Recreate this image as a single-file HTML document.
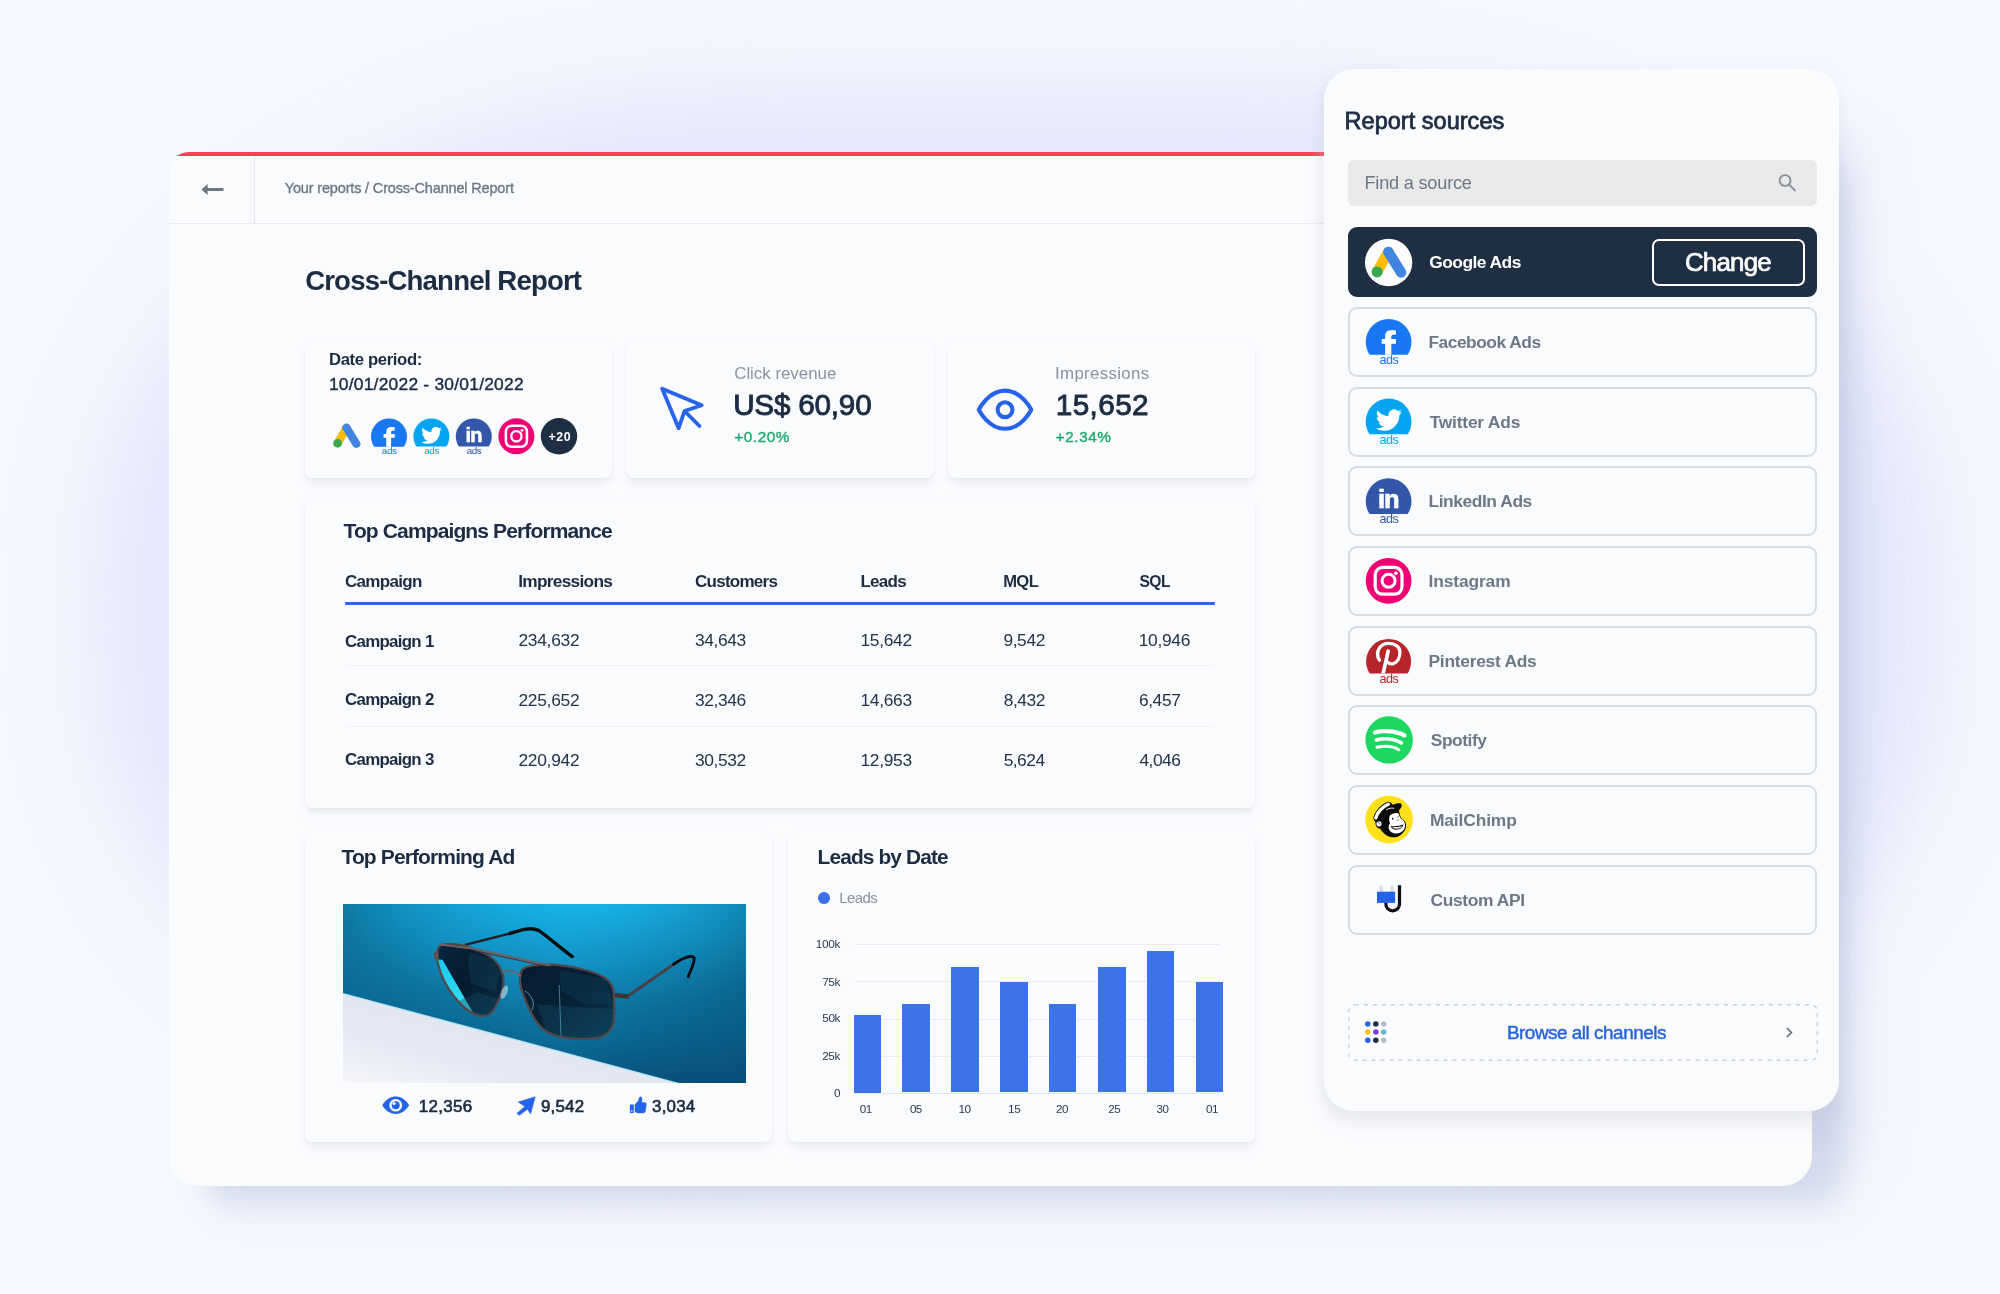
<!DOCTYPE html>
<html lang="en">
<head>
<meta charset="utf-8">
<title>Cross-Channel Report</title>
<style>
*{box-sizing:border-box;margin:0;padding:0}
html,body{width:2000px;height:1294px;overflow:hidden}
body{position:relative;font-family:"Liberation Sans",sans-serif;background:#f5f7fe;
 }
#blob{left:100px;top:92px;width:1835px;height:1040px;border-radius:640px/470px;background:#e4e7fb;filter:blur(40px)}
.abs{position:absolute}
.t{position:absolute;white-space:nowrap;line-height:1;font-family:"Liberation Sans",sans-serif}
#win{left:169px;top:152px;width:1643px;height:1034px;background:#fafbfd;border-radius:20px 0 30px 30px;
 box-shadow:32px 20px 24px -4px rgba(186,195,222,.40), 42px 28px 28px rgba(200,207,230,.18);overflow:hidden}
#redbar{left:0;top:0;width:100%;height:4px;background:#fa3f54}
#hline{left:169px;top:223px;width:1155px;height:1px;background:#e9ebef}
#vline{left:254px;top:156px;width:1px;height:67px;background:#e6e8ec}
.card{position:absolute;background:#fafbfd;border-radius:8px;box-shadow:0 6px 7px -1px rgba(198,203,215,.30), 0 1px 2px rgba(226,230,241,.3)}
#panel{left:1324px;top:69px;width:515px;height:1042px;background:#fafbfd;border-radius:30px;
 box-shadow:0 12px 14px rgba(196,198,212,.26), -5px 2px 14px rgba(205,210,235,.20)}
#pshadow{left:1324px;top:69px;width:515px;height:1042px;border-radius:30px;box-shadow:24px 52px 36px -16px rgba(182,190,224,.30), 34px 66px 52px -10px rgba(198,205,232,.17)}
#search{left:1348px;top:160px;width:469px;height:46px;background:#e9e9ea;border-radius:6px}
.row{position:absolute;left:1348px;width:469px;height:70px;border:2px solid #d8dbe0;border-radius:9px;background:#fafbfd}
.row.sel{background:#1e2e43;border-color:#1e2e43}
#change{left:1652px;top:239px;width:153px;height:47px;border:2px solid #fff;border-radius:7px}
#browse{left:1347.5px;top:1004px;width:470px;height:57px;border-radius:7px}
.grid{position:absolute;left:855px;width:365px;height:1px;background:#e9ebef}
.bar{position:absolute;background:#3d72e9;width:27.8px}
.sep{position:absolute;left:345px;width:870px;height:1px;background:#f0f2f5}
</style>
</head>
<body>
<!-- main window -->
<div id="blob" class="abs"></div>
<div id="pshadow" class="abs"></div>
<div id="win" class="abs"><div id="redbar" class="abs"></div></div>
<div id="hline" class="abs"></div>
<div id="vline" class="abs"></div>

<!-- cards -->
<div class="card" style="left:305px;top:341px;width:307px;height:137px"></div>
<div class="card" style="left:626px;top:341px;width:308px;height:137px"></div>
<div class="card" style="left:948px;top:341px;width:307px;height:137px"></div>
<div class="card" style="left:305px;top:498px;width:950px;height:310px"></div>
<div class="card" style="left:305px;top:832px;width:467px;height:310px"></div>
<div class="card" style="left:788px;top:832px;width:467px;height:310px"></div>

<!-- table lines -->
<div class="abs" style="left:345px;top:602px;width:870px;height:2.6px;background:#2f68e6;border-radius:1px"></div>
<div class="sep" style="top:665px"></div>
<div class="sep" style="top:725.5px"></div>

<!-- chart -->
<div class="grid" style="top:943.5px"></div>
<div class="grid" style="top:981px"></div>
<div class="grid" style="top:1018.5px"></div>
<div class="grid" style="top:1055.5px"></div>
<div class="grid" style="top:1093px;background:#e3e6ea"></div>
<div class="bar" style="left:853.6px;top:1015px;height:77.5px"></div>
<div class="bar" style="left:902.4px;top:1004.2px;height:88.3px"></div>
<div class="bar" style="left:951.2px;top:966.9px;height:125.6px"></div>
<div class="bar" style="left:1000px;top:981.8px;height:110.7px"></div>
<div class="bar" style="left:1048.7px;top:1004.2px;height:88.3px"></div>
<div class="bar" style="left:1097.8px;top:966.9px;height:125.6px"></div>
<div class="bar" style="left:1146.7px;top:950.6px;height:141.9px"></div>
<div class="bar" style="left:1195.7px;top:981.8px;height:110.7px"></div>
<div class="abs" style="left:818.3px;top:892.2px;width:11.6px;height:11.6px;border-radius:50%;background:#3d72e9"></div>

<svg class="abs" style="left:343px;top:903.5px" width="403" height="179.6" viewBox="0 0 403 179.6"><defs>
<linearGradient id="bgx" x1="0" x2="1" y1="0" y2="0"><stop offset="0" stop-color="#0c7aa5"/><stop offset=".3" stop-color="#0f92c2"/><stop offset=".55" stop-color="#12a7db"/><stop offset=".78" stop-color="#0e8bb9"/><stop offset="1" stop-color="#0b739e"/></linearGradient>
<linearGradient id="bgy" x1="0" x2="0" y1="0" y2="1"><stop offset="0" stop-color="#0a5a85" stop-opacity="0"/><stop offset=".4" stop-color="#08527c" stop-opacity=".32"/><stop offset="1" stop-color="#064a73" stop-opacity=".9"/></linearGradient>
<linearGradient id="fl" x1="0" x2="1" y1="1" y2="0"><stop offset="0" stop-color="#f6f7fb"/><stop offset=".3" stop-color="#e4e8f3"/><stop offset="1" stop-color="#dde3f0"/></linearGradient>
<linearGradient id="lensR" x1="0" x2="1" y1="0" y2="1"><stop offset="0" stop-color="#071d31"/><stop offset=".5" stop-color="#072034"/><stop offset="1" stop-color="#0a3852"/></linearGradient>
<linearGradient id="lensL" x1="0" x2="1" y1="0" y2="1"><stop offset="0" stop-color="#08263f"/><stop offset=".5" stop-color="#061a2d"/><stop offset="1" stop-color="#09304a"/></linearGradient>
<linearGradient id="cy" x1="0" x2="0" y1="0" y2="1"><stop offset="0" stop-color="#16c9ee"/><stop offset="1" stop-color="#3fe0f4"/></linearGradient>
<radialGradient id="glow" cx=".6" cy="0" r=".6"><stop offset="0" stop-color="#19b4e8" stop-opacity=".95"/><stop offset="1" stop-color="#19b4e8" stop-opacity="0"/></radialGradient>
<clipPath id="imgclip"><rect width="403" height="179.6"/></clipPath>
</defs><g clip-path="url(#imgclip)"><rect width="403" height="179.6" fill="url(#bgx)"/><rect width="403" height="179.6" fill="url(#glow)"/><rect width="403" height="179.6" fill="url(#bgy)"/><polygon points="0,89.6 336,179.6 0,179.6" fill="url(#fl)"/><path d="M0,89.6 L336,179.6" stroke="#b9e8f5" stroke-width="1.4" opacity=".9"/><path d="M122.0,40.8 L173.0,27.9" stroke="#241f23" stroke-width="2.4" fill="none"/><path d="M167.0,29.4 C179.0,25.5 188.0,22.8 195.5,26.4 C204.5,32.2 216.5,43.5 229.2,52.5" stroke="#0a0c10" stroke-width="3.4" stroke-linecap="round" fill="none"/><path d="M270.5,91.2 L284.7,92.2 L335.0,57.3" stroke="#4b4044" stroke-width="2.9" fill="none" stroke-linejoin="round"/><path d="M272.0,89.7 L284.0,90.6" stroke="#a39797" stroke-width="0.9" fill="none"/><path d="M330.5,60.3 C341.0,53.2 349.2,50.2 351.2,54.0 C351.5,60.0 347.0,67.5 345.2,72.7" stroke="#0a0c10" stroke-width="2.8" stroke-linecap="round" fill="none"/><path d="M270.8,88.8 L285.8,90.3 L285.5,94.8 L270.8,93.3 Z" fill="#3e3438"/><clipPath id="cl"><path d="M98.0,41.2 C101.4,40.0 108.9,39.9 114.5,40.5 C120.1,41.1 125.1,42.7 131.0,45.0 C136.9,47.3 144.3,50.2 149.0,54.0 C153.7,57.8 156.8,62.7 158.7,67.5 C160.7,72.3 160.9,77.4 160.2,82.5 C159.6,87.6 157.2,92.9 155.0,97.5 C152.8,102.1 150.6,107.1 147.5,109.5 C144.4,111.9 140.8,112.3 137.0,111.7 C133.2,111.2 129.3,109.7 125.0,106.5 C120.7,103.3 115.6,98.1 111.5,93.0 C107.4,87.9 103.8,82.1 101.0,76.5 C98.2,70.9 96.1,64.8 95.0,60.0 C93.9,55.2 93.7,51.2 94.2,48.0 C94.8,44.8 94.6,42.5 98.0,41.2 Z"/></clipPath><clipPath id="cr"><path d="M179.0,66.0 C181.3,62.7 185.4,62.4 191.0,61.5 C196.6,60.6 203.3,60.0 212.0,60.7 C220.7,61.5 233.6,63.8 242.0,66.0 C250.4,68.2 256.8,70.4 261.5,73.5 C266.2,76.6 268.1,79.4 269.7,84.0 C271.4,88.6 271.1,94.6 271.2,100.5 C271.4,106.4 271.6,113.7 270.5,118.5 C269.3,123.3 267.6,126.3 264.5,129.0 C261.4,131.7 258.9,133.4 252.5,134.2 C246.1,135.1 234.9,135.1 227.0,134.2 C219.1,133.4 211.6,131.7 206.0,129.0 C200.4,126.3 197.7,123.3 194.0,118.5 C190.3,113.7 187.0,106.9 184.2,100.5 C181.4,94.1 178.4,86.9 177.5,81.0 C176.6,75.1 176.7,69.3 179.0,66.0 Z"/></clipPath><path d="M98.0,41.2 C101.4,40.0 108.9,39.9 114.5,40.5 C120.1,41.1 125.1,42.7 131.0,45.0 C136.9,47.3 144.3,50.2 149.0,54.0 C153.7,57.8 156.8,62.7 158.7,67.5 C160.7,72.3 160.9,77.4 160.2,82.5 C159.6,87.6 157.2,92.9 155.0,97.5 C152.8,102.1 150.6,107.1 147.5,109.5 C144.4,111.9 140.8,112.3 137.0,111.7 C133.2,111.2 129.3,109.7 125.0,106.5 C120.7,103.3 115.6,98.1 111.5,93.0 C107.4,87.9 103.8,82.1 101.0,76.5 C98.2,70.9 96.1,64.8 95.0,60.0 C93.9,55.2 93.7,51.2 94.2,48.0 C94.8,44.8 94.6,42.5 98.0,41.2 Z" fill="url(#lensL)"/><g clip-path="url(#cl)"><polygon points="86.0,54.7 99.5,55.8 129.8,108.3 107.0,112.5 86.0,76.5" fill="url(#cy)"/><polygon points="126.5,48.7 147.5,54.0 158.0,67.5 152.0,87.0 128.0,79.5 125.0,61.5" fill="#124762" opacity=".38"/><polygon points="114.5,97.5 134.0,88.5 155.0,94.5 147.5,112.5 126.5,112.5" fill="#0f4a66" opacity=".4"/></g><path d="M98.0,41.2 C101.4,40.0 108.9,39.9 114.5,40.5 C120.1,41.1 125.1,42.7 131.0,45.0 C136.9,47.3 144.3,50.2 149.0,54.0 C153.7,57.8 156.8,62.7 158.7,67.5 C160.7,72.3 160.9,77.4 160.2,82.5 C159.6,87.6 157.2,92.9 155.0,97.5 C152.8,102.1 150.6,107.1 147.5,109.5 C144.4,111.9 140.8,112.3 137.0,111.7 C133.2,111.2 129.3,109.7 125.0,106.5 C120.7,103.3 115.6,98.1 111.5,93.0 C107.4,87.9 103.8,82.1 101.0,76.5 C98.2,70.9 96.1,64.8 95.0,60.0 C93.9,55.2 93.7,51.2 94.2,48.0 C94.8,44.8 94.6,42.5 98.0,41.2 Z" fill="none" stroke="#54474a" stroke-width="2.2"/><path d="M179.0,66.0 C181.3,62.7 185.4,62.4 191.0,61.5 C196.6,60.6 203.3,60.0 212.0,60.7 C220.7,61.5 233.6,63.8 242.0,66.0 C250.4,68.2 256.8,70.4 261.5,73.5 C266.2,76.6 268.1,79.4 269.7,84.0 C271.4,88.6 271.1,94.6 271.2,100.5 C271.4,106.4 271.6,113.7 270.5,118.5 C269.3,123.3 267.6,126.3 264.5,129.0 C261.4,131.7 258.9,133.4 252.5,134.2 C246.1,135.1 234.9,135.1 227.0,134.2 C219.1,133.4 211.6,131.7 206.0,129.0 C200.4,126.3 197.7,123.3 194.0,118.5 C190.3,113.7 187.0,106.9 184.2,100.5 C181.4,94.1 178.4,86.9 177.5,81.0 C176.6,75.1 176.7,69.3 179.0,66.0 Z" fill="url(#lensR)"/><g clip-path="url(#cr)"><polygon points="216.5,66.0 263.0,75.0 270.5,100.5 242.0,100.5 218.0,87.0" fill="#114863" opacity=".32"/><polygon points="194.0,100.5 270.5,105.0 270.5,135.0 206.0,135.0" fill="#10506d" opacity=".36"/><path d="M216.2,81.0 L218.0,132.0" stroke="#4d9ab4" stroke-width="0.9" opacity=".85"/><path d="M182.0,87.0 C189.5,91.5 192.5,100.5 188.7,106.5" stroke="#6fb0c6" stroke-width="1" fill="none" opacity=".8"/></g><path d="M179.0,66.0 C181.3,62.7 185.4,62.4 191.0,61.5 C196.6,60.6 203.3,60.0 212.0,60.7 C220.7,61.5 233.6,63.8 242.0,66.0 C250.4,68.2 256.8,70.4 261.5,73.5 C266.2,76.6 268.1,79.4 269.7,84.0 C271.4,88.6 271.1,94.6 271.2,100.5 C271.4,106.4 271.6,113.7 270.5,118.5 C269.3,123.3 267.6,126.3 264.5,129.0 C261.4,131.7 258.9,133.4 252.5,134.2 C246.1,135.1 234.9,135.1 227.0,134.2 C219.1,133.4 211.6,131.7 206.0,129.0 C200.4,126.3 197.7,123.3 194.0,118.5 C190.3,113.7 187.0,106.9 184.2,100.5 C181.4,94.1 178.4,86.9 177.5,81.0 C176.6,75.1 176.7,69.3 179.0,66.0 Z" fill="none" stroke="#54474a" stroke-width="2.2"/><path d="M96.5,40.5 L129.5,44.4 L207.5,61.5" stroke="#6f6163" stroke-width="2" fill="none" stroke-linejoin="round"/><path d="M134.0,47.2 L204.5,62.7" stroke="#3d3337" stroke-width="1" fill="none"/><path d="M158.7,68.7 C163.2,66.0 173.0,66.7 177.8,72.3" stroke="#6f6163" stroke-width="1.8" fill="none"/><path d="M90.2,48.7 L95.3,47.2 L95.9,55.8 L91.2,55.2 Z" fill="#5f5153"/><ellipse cx="161.3" cy="88.2" rx="3" ry="7" fill="#c4dfea" opacity=".6" transform="rotate(22 161.3 88.2)"/></g></svg>

<!-- right panel -->
<div id="panel" class="abs"></div>
<div id="search" class="abs"></div>
<div class="row sel" style="top:227.2px"></div>
<div class="row" style="top:306.9px"></div>
<div class="row" style="top:386.6px"></div>
<div class="row" style="top:466.3px"></div>
<div class="row" style="top:546px"></div>
<div class="row" style="top:625.7px"></div>
<div class="row" style="top:705.4px"></div>
<div class="row" style="top:785.1px"></div>
<div class="row" style="top:864.8px"></div>
<div id="change" class="abs"></div>
<svg id="browse" class="abs" width="470" height="57" viewBox="0 0 470 57"><rect x=".75" y=".75" width="468.5" height="55.5" rx="6" fill="none" stroke="#cdd1d7" stroke-width="1.4" stroke-dasharray="4.2 4.8"/></svg>
<svg class="abs" style="left:0;top:0;transform:translateZ(0);will-change:transform" width="2000" height="1294" viewBox="0 0 2000 1294"><path d="M201.4,189.5 L207.6,183.9 V188 H223.5 V191 H207.6 V195.1 Z" fill="#6c7888"/><g transform="translate(346.6,436) scale(0.78)"><path d="M-0.2,-10.6 L-11.5,9.4" stroke="#fbbc04" stroke-width="10.4" stroke-linecap="round"/><path d="M-0.2,-10.6 L12.5,10" stroke="#4285e0" stroke-width="10.4" stroke-linecap="round"/><circle cx="-11.5" cy="9.4" r="5.5" fill="#34a853"/></g><g transform="translate(389,436.5) scale(0.786)"><clipPath id="c1"><rect x="-30" y="-30" width="60" height="42.9"/></clipPath><g clip-path="url(#c1)"><circle r="22.9" fill="#1877f2"/><text transform="translate(-0.3,23.6) scale(1.14,1.27)" font-family="Liberation Sans, sans-serif" font-weight="700" font-size="39" text-anchor="middle" fill="#fff">f</text></g><text x="0.2" y="22" font-family="Liberation Sans, sans-serif" font-size="12.6" letter-spacing="-0.55" text-anchor="middle" fill="#1877f2">ads</text></g><g transform="translate(431.4,436.5) scale(0.786)"><clipPath id="c2"><rect x="-30" y="-30" width="60" height="42.7"/></clipPath><g clip-path="url(#c2)"><circle r="22.9" fill="#03a5f0"/><path transform="translate(-12.9,-14.6) scale(1.1)" d="M23.953 4.57a10 10 0 01-2.825.775 4.958 4.958 0 002.163-2.723c-.951.555-2.005.959-3.127 1.184a4.92 4.92 0 00-8.384 4.482C7.69 8.095 4.067 6.13 1.64 3.162a4.822 4.822 0 00-.666 2.475c0 1.71.87 3.213 2.188 4.096a4.904 4.904 0 01-2.228-.616v.06a4.923 4.923 0 003.946 4.827 4.996 4.996 0 01-2.212.085 4.936 4.936 0 004.604 3.417 9.867 9.867 0 01-6.102 2.105c-.39 0-.779-.023-1.17-.067a13.995 13.995 0 007.557 2.209c9.053 0 13.998-7.496 13.998-13.985 0-.21 0-.42-.015-.63A9.935 9.935 0 0024 4.59z" fill="#fff"/></g><text x="0.2" y="22" font-family="Liberation Sans, sans-serif" font-size="12.6" letter-spacing="-0.55" text-anchor="middle" fill="#03a5f0">ads</text></g><g transform="translate(473.8,436.5) scale(0.786)"><clipPath id="c3"><rect x="-30" y="-30" width="60" height="42.8"/></clipPath><g clip-path="url(#c3)"><circle r="22.9" fill="#3256a8"/><text x="-0.4" y="6.7" font-family="Liberation Sans, sans-serif" font-weight="700" font-size="25.5" letter-spacing="-1.2" text-anchor="middle" fill="#fff" stroke="#fff" stroke-width="0.7">in</text></g><text x="0.2" y="22" font-family="Liberation Sans, sans-serif" font-size="12.6" letter-spacing="-0.55" text-anchor="middle" fill="#3256a8">ads</text></g><g transform="translate(516.4,436.3) scale(0.786)"><circle r="22.9" fill="#f00075"/><rect x="-13.4" y="-13.4" width="26.8" height="26.8" rx="7.4" fill="none" stroke="#fff" stroke-width="3.2"/><circle r="6.5" fill="none" stroke="#fff" stroke-width="3"/><circle cx="7.3" cy="-7.6" r="1.8" fill="#fff"/></g><circle cx="559" cy="436.3" r="18.2" fill="#1e2e43"/><g transform="translate(655.2,381.7) scale(2.33)" fill="none" stroke="#2563eb" stroke-width="1.62" stroke-linecap="round" stroke-linejoin="round"><path d="M3 3l7.07 16.97 2.51-7.39 7.39-2.51L3 3z"/><path d="M13 13l6 6"/></g><g transform="translate(976.4,381.1) scale(2.386)" fill="none" stroke="#2563eb" stroke-width="1.7" stroke-linecap="round" stroke-linejoin="round"><path d="M1 12s4-8 11-8 11 8 11 8-4 8-11 8-11-8-11-8z"/><circle cx="12" cy="12" r="3.1"/></g><path d="M382.2,1105.2 C386,1099 391,1096.6 395.7,1096.6 C400.4,1096.6 405.4,1099 409.1,1105.2 C405.4,1111.4 400.4,1113.9 395.7,1113.9 C391,1113.9 386,1111.4 382.2,1105.2 Z" fill="#2563eb"/><circle cx="395.7" cy="1105.2" r="6.3" fill="#fafbfe"/><circle cx="395.7" cy="1105.2" r="4" fill="#2563eb"/><circle cx="394" cy="1103.4" r="1.5" fill="#fafbfe"/><path d="M535.2,1096.8 L518.2,1102 L525,1106.4 L517,1113.2 Q517.6,1115.2 519.8,1115 L527.4,1109.2 L530.6,1113.9 Z" fill="#2563eb" stroke="#2563eb" stroke-width="0.6" stroke-linejoin="round"/><rect x="629.9" y="1104.4" width="3.9" height="8.5" rx="0.5" fill="#2563eb"/><circle cx="631.8" cy="1111.1" r="0.8" fill="#fafbfe"/><path d="M635,1104.6 L638.4,1101 L639.2,1097.8 Q640.2,1096.2 641.5,1097.3 Q642.6,1099.6 641.4,1102.4 L645,1102.4 Q646.6,1102.9 646.3,1104.6 L645.3,1111.2 Q644.9,1112.8 643.4,1112.9 L637.6,1112.9 L635,1111.8 Z" fill="#2563eb" stroke="#2563eb" stroke-width="0.5" stroke-linejoin="round"/><g fill="none" stroke="#858f9b" stroke-width="1.9" stroke-linecap="round"><circle cx="1785.1" cy="180.5" r="5.4"/><path d="M1789.2,184.7 L1794.9,190.4"/></g><g transform="translate(1388.6,262.5) scale(1)"><circle r="23.7" fill="#fdfdfe"/><path d="M-0.2,-10.6 L-11.5,9.4" stroke="#fbbc04" stroke-width="10.4" stroke-linecap="round"/><path d="M-0.2,-10.6 L12.5,10" stroke="#4285e0" stroke-width="10.4" stroke-linecap="round"/><circle cx="-11.5" cy="9.4" r="5.5" fill="#34a853"/></g><g transform="translate(1388.6,341.9) scale(1)"><clipPath id="c4"><rect x="-30" y="-30" width="60" height="42.9"/></clipPath><g clip-path="url(#c4)"><circle r="22.9" fill="#1877f2"/><text transform="translate(-0.3,23.6) scale(1.14,1.27)" font-family="Liberation Sans, sans-serif" font-weight="700" font-size="39" text-anchor="middle" fill="#fff">f</text></g><text x="0.2" y="22" font-family="Liberation Sans, sans-serif" font-size="12.6" letter-spacing="-0.55" text-anchor="middle" fill="#1877f2">ads</text></g><g transform="translate(1388.6,421.5) scale(1)"><clipPath id="c5"><rect x="-30" y="-30" width="60" height="42.7"/></clipPath><g clip-path="url(#c5)"><circle r="22.9" fill="#03a5f0"/><path transform="translate(-12.9,-14.6) scale(1.1)" d="M23.953 4.57a10 10 0 01-2.825.775 4.958 4.958 0 002.163-2.723c-.951.555-2.005.959-3.127 1.184a4.92 4.92 0 00-8.384 4.482C7.69 8.095 4.067 6.13 1.64 3.162a4.822 4.822 0 00-.666 2.475c0 1.71.87 3.213 2.188 4.096a4.904 4.904 0 01-2.228-.616v.06a4.923 4.923 0 003.946 4.827 4.996 4.996 0 01-2.212.085 4.936 4.936 0 004.604 3.417 9.867 9.867 0 01-6.102 2.105c-.39 0-.779-.023-1.17-.067a13.995 13.995 0 007.557 2.209c9.053 0 13.998-7.496 13.998-13.985 0-.21 0-.42-.015-.63A9.935 9.935 0 0024 4.59z" fill="#fff"/></g><text x="0.2" y="22" font-family="Liberation Sans, sans-serif" font-size="12.6" letter-spacing="-0.55" text-anchor="middle" fill="#03a5f0">ads</text></g><g transform="translate(1388.6,501.2) scale(1)"><clipPath id="c6"><rect x="-30" y="-30" width="60" height="42.8"/></clipPath><g clip-path="url(#c6)"><circle r="22.9" fill="#3256a8"/><text x="-0.4" y="6.7" font-family="Liberation Sans, sans-serif" font-weight="700" font-size="25.5" letter-spacing="-1.2" text-anchor="middle" fill="#fff" stroke="#fff" stroke-width="0.7">in</text></g><text x="0.2" y="22" font-family="Liberation Sans, sans-serif" font-size="12.6" letter-spacing="-0.55" text-anchor="middle" fill="#3256a8">ads</text></g><g transform="translate(1388.6,580.8) scale(1)"><circle r="22.9" fill="#f00075"/><rect x="-13.4" y="-13.4" width="26.8" height="26.8" rx="7.4" fill="none" stroke="#fff" stroke-width="3.2"/><circle r="6.5" fill="none" stroke="#fff" stroke-width="3"/><circle cx="7.3" cy="-7.6" r="1.8" fill="#fff"/></g><g transform="translate(1388.6,661.4) scale(1)"><clipPath id="c7"><rect x="-30" y="-30" width="60" height="42"/></clipPath><g clip-path="url(#c7)"><circle r="22.5" fill="#b7242a"/><path d="M-9.2,-1.3 C-11.6,-4.6 -11.6,-9.8 -9.4,-13 C-7.2,-16.6 -3.4,-18 0.2,-18 C6.4,-18 11.3,-14.6 11.3,-9.4 C11.3,-3.8 8.8,1 4.8,2.2 C2.4,2.9 0,2.1 -1.7,0.2" fill="none" stroke="#fff" stroke-width="3.4" stroke-linecap="round"/><path d="M-0.4,-10.2 L-5.8,13.5" fill="none" stroke="#fff" stroke-width="3.7" stroke-linecap="round"/></g><text x="0.2" y="21.4" font-family="Liberation Sans, sans-serif" font-size="12.6" letter-spacing="-0.55" text-anchor="middle" fill="#b7242a">ads</text></g><g transform="translate(1365.5,716.1999999999999) scale(1.975)"><circle cx="12" cy="12" r="11" fill="#fff"/><path d="M12 0C5.4 0 0 5.4 0 12s5.4 12 12 12 12-5.4 12-12S18.66 0 12 0zm5.521 17.34c-.24.359-.66.48-1.021.24-2.82-1.74-6.36-2.101-10.561-1.141-.418.122-.779-.179-.899-.539-.12-.421.18-.78.54-.9 4.56-1.021 8.52-.6 11.64 1.32.42.18.479.659.301 1.02zm1.44-3.3c-.301.42-.841.6-1.262.3-3.239-1.98-8.159-2.58-11.939-1.38-.479.12-1.02-.12-1.14-.6-.12-.48.12-1.021.6-1.141C9.6 9.9 15 10.561 18.72 12.84c.361.181.54.78.241 1.2zm.12-3.36C15.24 8.4 8.82 8.16 5.16 9.301c-.6.179-1.2-.181-1.38-.721-.18-.601.18-1.2.72-1.381 4.26-1.26 11.28-1.02 15.721 1.621.539.3.719 1.02.419 1.56-.299.421-1.02.599-1.559.3z" fill="#1ed760"/></g><g transform="translate(1360.1,789.9)"><circle cx="29" cy="29.7" r="23.8" fill="#ffe01b"/><path d="M41.7,15.3 C41.6,13.6 40.6,13.2 39.2,13.3 C37.5,13.2 34.5,13.8 32.6,14.9 C31.5,12.6 29.2,11.7 27.4,12 C22,13.5 15.4,20.5 13.5,26.5 C13.1,28.2 13.3,29.5 14.2,30.6 C14.6,31.4 15.2,31.8 15.4,32.3 C15,34.5 15.8,36.7 17.5,37.8 C18.3,38.4 19.2,38.6 19.9,38.7 C20.8,40.2 21.6,41.2 22.6,42.2 C24.5,44.6 27.5,46.8 31.5,47.3 C34,47.6 36.2,47.3 38,46.5 C41.2,45.3 44.3,42 45.5,38.6 C46.2,36.4 46.1,34.5 45.5,33 C45,31.8 44.6,31 43.7,30.3 C42.8,29.2 41.6,28.6 40.9,27.8 C40.2,26.4 39.6,24.4 39.3,22.8 C39,21.6 38.9,20.9 39,20.3 C39.9,19.6 41.8,17.5 41.7,15.3 Z" fill="#0b0b0b"/><path d="M28.2,14.4 C22.4,16.8 17.2,22.6 15.7,28" fill="none" stroke="#fff" stroke-width="3.4" stroke-linecap="round"/><path d="M26.3,19.8 C28.6,18.4 31.5,17.8 33.8,18.3" fill="none" stroke="#fff" stroke-width="0.9" stroke-linecap="round"/><circle cx="18.9" cy="33.9" r="2.6" fill="#fff"/><path d="M17.6,33 C18.6,32.2 19.9,32.8 19.9,34.6" fill="none" stroke="#0b0b0b" stroke-width="0.7"/><path d="M29.8,25.6 C31.5,23.4 36,22.6 38,23.4 C39,24.6 39.5,27 40.6,28.5 C42.4,29.6 44.3,30.8 44.2,32.4 C45.2,34 45.3,36.6 44.2,38.8 C42.8,41.6 40,43.6 36.6,43.6 C33,43.8 29.6,42 28.7,38.6 C28.3,36.6 28.8,34.8 30,33.4 C29,31.6 28.6,28 29.8,25.6 Z" fill="#fff"/><path d="M30.6,36.1 C34,36.6 39.5,36.2 43.3,34.6 C43.2,37 40.5,39.6 36.5,39.8 C33.6,39.9 31.2,38.4 30.6,36.1 Z" fill="#0b0b0b"/><path d="M32.2,37 C35,37.4 39,37 41.9,36 C41.2,37.6 39,38.8 36.4,38.8 C34.5,38.8 33,38.2 32.2,37 Z" fill="#e8e8e8"/><path d="M30.3,34.2 C33.5,34.6 39,34 42.8,32" fill="none" stroke="#0b0b0b" stroke-width="0.0"/><ellipse cx="32.5" cy="28.8" rx="0.75" ry="1" fill="#0b0b0b"/><path d="M37.2,27.2 L38.8,26.8 M36.6,30.4 C37.4,30.7 38.2,30.3 38.6,29.4" stroke="#0b0b0b" stroke-width="0.6" fill="none"/></g><rect x="1379.4" y="885.5" width="3.4" height="7" fill="#dcdfe4"/><rect x="1390.2" y="885.5" width="3.4" height="7" fill="#dcdfe4"/><path d="M1385.9,902 V904.2 a6.8,6.6 0 0 0 13.6,0 V885.3" fill="none" stroke="#0d0f14" stroke-width="3.2"/><rect x="1377" y="891.7" width="18.1" height="11.2" fill="#2462ea"/><circle cx="1367.8" cy="1024.1" r="2.75" fill="#2563eb"/><circle cx="1375.8" cy="1024.1" r="2.75" fill="#1e2e43"/><circle cx="1383.7" cy="1024.1" r="2.75" fill="#b9bdc5"/><circle cx="1367.8" cy="1032.1" r="2.75" fill="#fbbf24"/><circle cx="1375.8" cy="1032.1" r="2.75" fill="#7c3aed"/><circle cx="1383.7" cy="1032.1" r="2.75" fill="#5fb8cd"/><circle cx="1367.8" cy="1040.2" r="2.75" fill="#2563eb"/><circle cx="1375.8" cy="1040.2" r="2.75" fill="#1e2e43"/><circle cx="1383.7" cy="1040.2" r="2.75" fill="#b9bdc5"/><path d="M1786.9,1028 L1791.4,1032.5 L1786.9,1037" fill="none" stroke="#5e6a79" stroke-width="1.6"/></svg>

<!-- text -->
<div id="txt" class="abs" style="left:0;top:0;width:2000px;height:1294px;transform:translateZ(0);will-change:transform">
<span class="t" style="left:284.77px;top:181px;font-size:14.5px;font-weight:400;color:#6c7888;letter-spacing:-0.165px;-webkit-text-stroke:0.35px #6c7888;">Your reports / Cross-Channel Report</span>
<span class="t" style="left:305.14px;top:267px;font-size:27.6px;font-weight:700;color:#1b2c43;letter-spacing:-0.837px;">Cross-Channel Report</span>
<span class="t" style="left:328.96px;top:352px;font-size:16.7px;font-weight:700;color:#1b2c43;letter-spacing:-0.363px;">Date period:</span>
<span class="t" style="left:328.91px;top:376px;font-size:17.4px;font-weight:400;color:#1b2c43;letter-spacing:0.235px;-webkit-text-stroke:0.4px #1b2c43;">10/01/2022 - 30/01/2022</span>
<span class="t" style="left:734.21px;top:366px;font-size:16.9px;font-weight:400;color:#8993a1;letter-spacing:-0.017px;">Click revenue</span>
<span class="t" style="left:733.14px;top:390px;font-size:29.7px;font-weight:400;color:#1b2c43;letter-spacing:-0.219px;-webkit-text-stroke:0.9px #1b2c43;">US$ 60,90</span>
<span class="t" style="left:734.28px;top:429px;font-size:15.3px;font-weight:400;color:#22a56f;letter-spacing:0.571px;-webkit-text-stroke:0.4px #22a56f;">+0.20%</span>
<span class="t" style="left:1055.08px;top:366px;font-size:16.9px;font-weight:400;color:#8993a1;letter-spacing:0.295px;">Impressions</span>
<span class="t" style="left:1055.74px;top:390px;font-size:29.7px;font-weight:400;color:#1b2c43;letter-spacing:0.404px;-webkit-text-stroke:0.9px #1b2c43;">15,652</span>
<span class="t" style="left:1055.68px;top:429px;font-size:15.3px;font-weight:400;color:#22a56f;letter-spacing:0.591px;-webkit-text-stroke:0.4px #22a56f;">+2.34%</span>
<span class="t" style="left:548.40px;top:431px;font-size:12.4px;font-weight:700;color:#ffffff;letter-spacing:0.581px;">+20</span>
<span class="t" style="left:343.50px;top:520px;font-size:21.0px;font-weight:700;color:#1b2c43;letter-spacing:-0.871px;">Top Campaigns Performance</span>
<span class="t" style="left:344.97px;top:573px;font-size:17.0px;font-weight:700;color:#1b2c43;letter-spacing:-0.689px;">Campaign</span>
<span class="t" style="left:518.17px;top:573px;font-size:17.3px;font-weight:700;color:#1b2c43;letter-spacing:-0.713px;">Impressions</span>
<span class="t" style="left:694.97px;top:573px;font-size:17.0px;font-weight:700;color:#1b2c43;letter-spacing:-0.729px;">Customers</span>
<span class="t" style="left:860.44px;top:573px;font-size:17.0px;font-weight:700;color:#1b2c43;letter-spacing:-0.720px;">Leads</span>
<span class="t" style="left:1003.21px;top:574px;font-size:16.6px;font-weight:700;color:#1b2c43;letter-spacing:-0.654px;">MQL</span>
<span class="t" style="left:1139.50px;top:574px;font-size:15.7px;font-weight:700;color:#1b2c43;letter-spacing:-0.630px;">SQL</span>
<span class="t" style="left:344.97px;top:634px;font-size:16.9px;font-weight:700;color:#1b2c43;letter-spacing:-0.704px;">Campaign 1</span>
<span class="t" style="left:518.43px;top:632px;font-size:17.4px;font-weight:400;color:#22334a;letter-spacing:-0.271px;">234,632</span>
<span class="t" style="left:694.96px;top:632px;font-size:17.4px;font-weight:400;color:#22334a;letter-spacing:-0.394px;">34,643</span>
<span class="t" style="left:860.41px;top:632px;font-size:17.4px;font-weight:400;color:#22334a;letter-spacing:-0.285px;">15,642</span>
<span class="t" style="left:1003.43px;top:632px;font-size:17.4px;font-weight:400;color:#22334a;letter-spacing:-0.405px;">9,542</span>
<span class="t" style="left:1138.66px;top:632px;font-size:17.4px;font-weight:400;color:#22334a;letter-spacing:-0.285px;">10,946</span>
<span class="t" style="left:344.97px;top:692px;font-size:16.9px;font-weight:700;color:#1b2c43;letter-spacing:-0.704px;">Campaign 2</span>
<span class="t" style="left:518.43px;top:692px;font-size:17.4px;font-weight:400;color:#22334a;letter-spacing:-0.271px;">225,652</span>
<span class="t" style="left:694.96px;top:692px;font-size:17.4px;font-weight:400;color:#22334a;letter-spacing:-0.394px;">32,346</span>
<span class="t" style="left:860.41px;top:692px;font-size:17.4px;font-weight:400;color:#22334a;letter-spacing:-0.285px;">14,663</span>
<span class="t" style="left:1003.71px;top:692px;font-size:17.4px;font-weight:400;color:#22334a;letter-spacing:-0.473px;">8,432</span>
<span class="t" style="left:1138.93px;top:692px;font-size:17.4px;font-weight:400;color:#22334a;letter-spacing:-0.405px;">6,457</span>
<span class="t" style="left:344.97px;top:752px;font-size:16.9px;font-weight:700;color:#1b2c43;letter-spacing:-0.704px;">Campaign 3</span>
<span class="t" style="left:518.43px;top:752px;font-size:17.4px;font-weight:400;color:#22334a;letter-spacing:-0.271px;">220,942</span>
<span class="t" style="left:694.96px;top:752px;font-size:17.4px;font-weight:400;color:#22334a;letter-spacing:-0.394px;">30,532</span>
<span class="t" style="left:860.41px;top:752px;font-size:17.4px;font-weight:400;color:#22334a;letter-spacing:-0.285px;">12,953</span>
<span class="t" style="left:1003.71px;top:752px;font-size:17.4px;font-weight:400;color:#22334a;letter-spacing:-0.541px;">5,624</span>
<span class="t" style="left:1139.48px;top:752px;font-size:17.4px;font-weight:400;color:#22334a;letter-spacing:-0.541px;">4,046</span>
<span class="t" style="left:341.50px;top:846px;font-size:21.0px;font-weight:700;color:#1b2c43;letter-spacing:-0.875px;">Top Performing Ad</span>
<span class="t" style="left:817.59px;top:847px;font-size:20.9px;font-weight:700;color:#1b2c43;letter-spacing:-0.882px;">Leads by Date</span>
<span class="t" style="left:839.23px;top:890px;font-size:15.0px;font-weight:400;color:#8993a1;letter-spacing:-0.607px;">Leads</span>
<span class="t" style="left:418.64px;top:1099px;font-size:16.9px;font-weight:400;color:#1b2c43;letter-spacing:0.370px;-webkit-text-stroke:0.65px #1b2c43;">12,356</span>
<span class="t" style="left:541.01px;top:1099px;font-size:16.9px;font-weight:400;color:#1b2c43;letter-spacing:0.196px;-webkit-text-stroke:0.65px #1b2c43;">9,542</span>
<span class="t" style="left:652.07px;top:1099px;font-size:16.9px;font-weight:400;color:#1b2c43;letter-spacing:0.214px;-webkit-text-stroke:0.65px #1b2c43;">3,034</span>
<span class="t" style="left:815.75px;top:939px;font-size:11.8px;font-weight:400;color:#2b3b51;letter-spacing:-0.329px;">100k</span>
<span class="t" style="left:822.20px;top:977px;font-size:11.8px;font-weight:400;color:#2b3b51;letter-spacing:-0.438px;">75k</span>
<span class="t" style="left:822.35px;top:1013px;font-size:11.8px;font-weight:400;color:#2b3b51;letter-spacing:-0.513px;">50k</span>
<span class="t" style="left:822.25px;top:1051px;font-size:11.8px;font-weight:400;color:#2b3b51;letter-spacing:-0.463px;">25k</span>
<span class="t" style="left:834.05px;top:1088px;font-size:11.8px;font-weight:400;color:#2b3b51;letter-spacing:0.000px;">0</span>
<span class="t" style="left:859.70px;top:1103px;font-size:11.7px;font-weight:400;color:#2b3b51;letter-spacing:-0.507px;">01</span>
<span class="t" style="left:909.90px;top:1103px;font-size:11.6px;font-weight:400;color:#2b3b51;letter-spacing:-0.501px;">05</span>
<span class="t" style="left:958.40px;top:1104px;font-size:11.8px;font-weight:400;color:#2b3b51;letter-spacing:-0.363px;">10</span>
<span class="t" style="left:1008.00px;top:1104px;font-size:11.8px;font-weight:400;color:#2b3b51;letter-spacing:-0.313px;">15</span>
<span class="t" style="left:1055.90px;top:1103px;font-size:11.6px;font-weight:400;color:#2b3b51;letter-spacing:-0.401px;">20</span>
<span class="t" style="left:1108.20px;top:1103px;font-size:11.7px;font-weight:400;color:#2b3b51;letter-spacing:-0.507px;">25</span>
<span class="t" style="left:1156.45px;top:1104px;font-size:11.5px;font-weight:400;color:#2b3b51;letter-spacing:-0.446px;">30</span>
<span class="t" style="left:1206.00px;top:1103px;font-size:11.7px;font-weight:400;color:#2b3b51;letter-spacing:-0.507px;">01</span>
<span class="t" style="left:1344.56px;top:110px;font-size:23.5px;font-weight:400;color:#1b2c43;letter-spacing:0.025px;-webkit-text-stroke:0.8px #1b2c43;">Report sources</span>
<span class="t" style="left:1364.48px;top:174px;font-size:18.2px;font-weight:400;color:#6c7888;letter-spacing:-0.226px;">Find a source</span>
<span class="t" style="left:1429.26px;top:254px;font-size:17.4px;font-weight:700;color:#ffffff;letter-spacing:-0.543px;">Google Ads</span>
<span class="t" style="left:1684.99px;top:250px;font-size:25.9px;font-weight:400;color:#ffffff;letter-spacing:-0.812px;-webkit-text-stroke:0.7px #ffffff;">Change</span>
<span class="t" style="left:1428.51px;top:334px;font-size:17.4px;font-weight:700;color:#6c7888;letter-spacing:-0.512px;">Facebook Ads</span>
<span class="t" style="left:1429.70px;top:414px;font-size:17.4px;font-weight:700;color:#6c7888;letter-spacing:-0.214px;">Twitter Ads</span>
<span class="t" style="left:1428.51px;top:493px;font-size:17.4px;font-weight:700;color:#6c7888;letter-spacing:-0.432px;">LinkedIn Ads</span>
<span class="t" style="left:1428.51px;top:573px;font-size:17.4px;font-weight:700;color:#6c7888;letter-spacing:-0.126px;">Instagram</span>
<span class="t" style="left:1428.51px;top:653px;font-size:17.4px;font-weight:700;color:#6c7888;letter-spacing:-0.273px;">Pinterest Ads</span>
<span class="t" style="left:1430.73px;top:732px;font-size:17.4px;font-weight:700;color:#6c7888;letter-spacing:-0.434px;">Spotify</span>
<span class="t" style="left:1429.91px;top:812px;font-size:17.4px;font-weight:700;color:#6c7888;letter-spacing:-0.126px;">MailChimp</span>
<span class="t" style="left:1430.56px;top:892px;font-size:17.4px;font-weight:700;color:#6c7888;letter-spacing:-0.382px;">Custom API</span>
<span class="t" style="left:1506.92px;top:1024px;font-size:18.9px;font-weight:400;color:#2563e0;letter-spacing:-0.473px;-webkit-text-stroke:0.45px #2563e0;">Browse all channels</span>
</div>
</body>
</html>
